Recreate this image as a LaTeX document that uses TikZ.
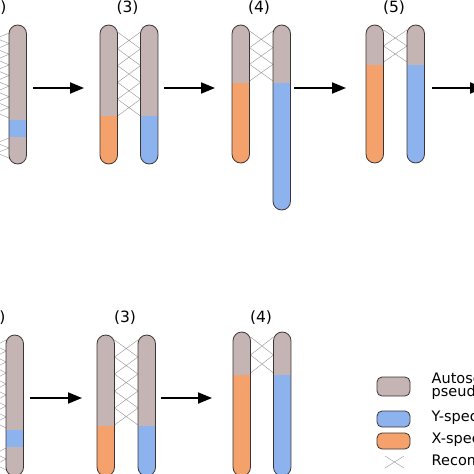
\documentclass[tikz,border=0pt]{standalone}
\usepackage{fontspec}
\setmainfont{DejaVu Sans}
\usetikzlibrary{arrows.meta}
\definecolor{autoc}{HTML}{C4B4B4}
\definecolor{ycol}{HTML}{8DB3EE}
\definecolor{xcol}{HTML}{F4A16B}
\definecolor{outc}{HTML}{3C3434}
\tikzset{
 outl/.style={draw=outc, line width=0.8pt},
 rec/.style={draw=black!40, line width=0.45pt},
 arr/.style={-{Triangle[length=14pt,width=11pt]}, line width=1.9pt},
 stagelabel/.style={font=\fontsize{15.5}{17}\selectfont, inner sep=0pt},
 legtext/.style={font=\fontsize{14.5}{16}\selectfont, inner sep=0pt, anchor=base west},
 swatch/.style={outl, rounded corners=5pt},
}
% #1 left x, #2 top, #3 bottom, #4 split y, #5 lower colour
\newcommand\chromo[5]{%
 \begin{scope}
  \clip[rounded corners=8.75pt] (#1,#2) rectangle (#1+17.5,#3);
  \fill[autoc] (#1,#2) rectangle (#1+17.5,#3);
  \fill[#5] (#1,#4) rectangle (#1+17.5,#3);
 \end{scope}
 \draw[outl, rounded corners=8.75pt] (#1,#2) rectangle (#1+17.5,#3);
}
% #1 left x, #2 top, #3 bottom, #4 band top, #5 band bottom
\newcommand\chromoband[5]{%
 \begin{scope}
  \clip[rounded corners=8.75pt] (#1,#2) rectangle (#1+17.5,#3);
  \fill[autoc] (#1,#2) rectangle (#1+17.5,#3);
  \fill[ycol] (#1,#4) rectangle (#1+17.5,#5);
 \end{scope}
 \draw[outl, rounded corners=8.75pt] (#1,#2) rectangle (#1+17.5,#3);
}
% #1 left x, #2 right x, #3 top y, #4 bottom y, #5 number of crosses
\newcommand\recomb[5]{%
 \pgfmathsetmacro\rh{(#4-#3)/#5}
 \foreach \i in {1,...,#5}{
  \pgfmathsetmacro\ya{#3+(\i-1)*\rh}
  \pgfmathsetmacro\yb{#3+\i*\rh}
  \draw[rec] (#1,\ya) -- (#2,\yb) (#1,\yb) -- (#2,\ya);
 }
}
\begin{document}
\begin{tikzpicture}[x=1pt,y=-1pt]
\useasboundingbox (0,0) rectangle (474,474);
\clip (0,0) rectangle (474,474);

% ---------------- top row ----------------
\node[stagelabel] (t2) at (-4.5,8) {(2)};
\recomb{-16}{9}{33}{118}{8}
\recomb{-16}{9}{138}{158}{2}
\chromoband{9}{25}{164}{120}{137}

\coordinate (ta1s) at (33,88); \coordinate (ta1e) at (84,88);
\draw[arr] (ta1s) -- (ta1e);

\node[stagelabel] (t3) at (127.5,8) {(3)};
\recomb{117.5}{140.5}{32}{116}{5}
\chromo{100}{25}{164}{116}{xcol}
\chromo{140.5}{25}{164}{116}{ycol}

\coordinate (ta2s) at (164,88); \coordinate (ta2e) at (215,88);
\draw[arr] (ta2s) -- (ta2e);

\node[stagelabel] (t4) at (259,8) {(4)};
\recomb{249.5}{273}{31}{81}{3}
\chromo{232}{25}{163}{83}{xcol}
\chromo{273}{25}{210}{83}{ycol}

\coordinate (ta3s) at (294,88); \coordinate (ta3e) at (346,88);
\draw[arr] (ta3s) -- (ta3e);

\node[stagelabel] (t5) at (394,8) {(5)};
\recomb{383.5}{407}{30}{62}{2}
\chromo{366}{25}{163}{65}{xcol}
\chromo{407}{25}{163}{65}{ycol}

\coordinate (ta4s) at (432,88); \coordinate (ta4e) at (484,88);
\draw[arr] (ta4s) -- (ta4e);

% ---------------- bottom row ----------------
\node[stagelabel] (b2) at (-5.5,318) {(2)};
\recomb{-15}{6}{340}{428}{8}
\recomb{-15}{6}{448}{470}{2}
\chromoband{6}{335}{476}{430}{447}

\coordinate (ba1s) at (30,398); \coordinate (ba1e) at (82,398);
\draw[arr] (ba1s) -- (ba1e);

\node[stagelabel] (b3) at (125,318) {(3)};
\recomb{114.5}{138}{340}{425}{5}
\chromo{97}{335}{476}{426}{xcol}
\chromo{138}{335}{476}{426}{ycol}

\coordinate (ba2s) at (161,398); \coordinate (ba2e) at (212,398);
\draw[arr] (ba2s) -- (ba2e);

\node[stagelabel] (b4) at (261,318) {(4)};
\recomb{250.5}{273.5}{337}{373}{2}
\chromo{233}{332}{476}{375}{xcol}
\chromo{273.5}{332}{476}{375}{ycol}

% ---------------- legend ----------------
\draw[swatch, fill=autoc] (377,377) rectangle (410,396);
\draw[swatch, fill=ycol] (377,411) rectangle (410,427);
\draw[swatch, fill=xcol] (377,433) rectangle (410,449);
\coordinate (lx1) at (385,456); \coordinate (lx2) at (404,468);
\draw[rec] (lx1) -- (lx2) (lx1 |- lx2) -- (lx2 |- lx1);

\node[legtext] (l1) at (431.5,383.3) {Autosomal or};
\node[legtext] (l2) at (431.5,396.7) {pseudoautosomal};
\node[legtext] (l3) at (431.5,421.7) {Y-specific};
\node[legtext] (l4) at (431.5,443.3) {X-specific};
\node[legtext] (l5) at (431.5,465) {Recombination};
\end{tikzpicture}
\end{document}
